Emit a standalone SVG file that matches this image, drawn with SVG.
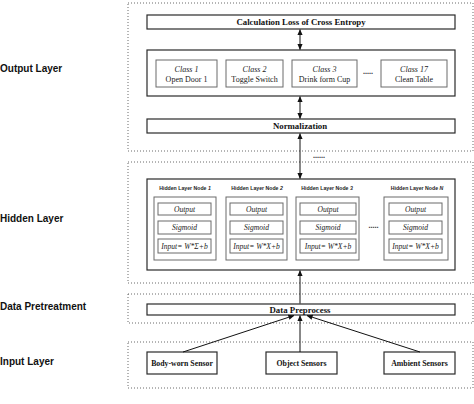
<svg xmlns="http://www.w3.org/2000/svg" width="474" height="404" viewBox="0 0 474 404">
<style>
.bg{fill:#fff}
.layer{fill:none;stroke:#6a6a6a;stroke-width:1;stroke-dasharray:1 2}
.box{fill:#fff;stroke:#2a2a2a;stroke-width:1.2}
.ibox{fill:#fff;stroke:#6a6a6a;stroke-width:1}
.lt{font-family:"Liberation Sans",Arial,sans-serif;font-weight:bold;font-size:10px;fill:#111}
.bt{font-family:"Liberation Serif","Times New Roman",serif;font-weight:bold;font-size:8.8px;fill:#111;text-anchor:middle}
.st{font-family:"Liberation Serif","Times New Roman",serif;font-weight:bold;font-size:7.8px;fill:#111;text-anchor:middle}
.ct{font-family:"Liberation Serif","Times New Roman",serif;font-size:8px;fill:#222;text-anchor:middle}
.ci{font-style:italic}
.nt{font-family:"Liberation Sans",Arial,sans-serif;font-weight:bold;font-size:5.2px;fill:#222;text-anchor:middle}
.it{font-family:"Liberation Serif","Times New Roman",serif;font-style:italic;font-size:7.6px;fill:#222;text-anchor:middle}
.dots{font-family:"Liberation Serif","Times New Roman",serif;font-weight:bold;font-size:8px;fill:#333;text-anchor:middle}
.ln{stroke:#111;stroke-width:1;fill:none}
</style>
<defs>
<marker id="ah" viewBox="0 0 8 8" refX="7.5" refY="4" markerWidth="6" markerHeight="6" orient="auto-start-reverse" markerUnits="userSpaceOnUse">
<path d="M0,0.5 L8,4 L0,7.5 Z" fill="#111"/>
</marker>
</defs>
<rect class="bg" x="0" y="0" width="474" height="404"/>

<g id="labels">
<text class="lt" x="0" y="71.5">Output Layer</text>
<text class="lt" x="0" y="221.5">Hidden Layer</text>
<text class="lt" x="0" y="309.5">Data Pretreatment</text>
<text class="lt" x="0" y="364.5">Input Layer</text>
</g>

<g id="layers">
<rect class="layer" x="128" y="3" width="345" height="148"/>
<rect class="layer" x="128" y="162" width="345" height="121"/>
<rect class="layer" x="128" y="294" width="345" height="29"/>
<rect class="layer" x="128" y="342" width="345" height="46"/>
</g>

<g id="calc">
<rect class="box" x="147" y="15" width="308" height="14"/>
<text class="bt" x="301" y="25">Calculation Loss of Cross Entropy</text>
</g>

<g id="classes">
<rect class="box" x="147" y="50" width="308" height="46"/>
<g id="class1">
<rect class="ibox" x="156" y="60" width="61" height="27"/>
<text class="ct ci" x="186.5" y="71.5">Class 1</text>
<text class="ct" x="186.5" y="81.5">Open Door 1</text>
</g>
<g id="class2">
<rect class="ibox" x="226" y="60" width="57" height="27"/>
<text class="ct ci" x="254.5" y="71.5">Class 2</text>
<text class="ct" x="254.5" y="81.5">Toggle Switch</text>
</g>
<g id="class3">
<rect class="ibox" x="292" y="60" width="65" height="27"/>
<text class="ct ci" x="324.5" y="71.5">Class 3</text>
<text class="ct" x="324.5" y="81.5">Drink form Cup</text>
</g>
<text class="dots" x="368" y="74">.....</text>
<g id="class17">
<rect class="ibox" x="381" y="60" width="66" height="27"/>
<text class="ct ci" x="414" y="71.5">Class 17</text>
<text class="ct" x="414" y="81.5">Clean Table</text>
</g>
</g>

<g id="norm">
<rect class="box" x="147" y="119" width="308" height="14"/>
<text class="bt" x="300" y="129">Normalization</text>
</g>

<text class="dots" x="319" y="158">......</text>

<g id="hidden">
<rect class="box" x="147" y="179" width="308" height="91"/>
<g id="node1">
<text class="nt" x="185" y="189.5">Hidden Layer Node <tspan font-style="italic">1</tspan></text>
<rect class="ibox" x="154" y="197" width="62" height="63"/>
<rect class="ibox" x="158" y="203" width="53" height="12"/>
<text class="it" x="184.5" y="211.5">Output</text>
<rect class="ibox" x="158" y="221" width="53" height="13"/>
<text class="it" x="184.5" y="230">Sigmoid</text>
<rect class="ibox" x="158" y="239" width="53" height="14"/>
<text class="it" x="184.5" y="248.5">Input= W*Σ+b</text>
</g>
<g id="node2">
<text class="nt" x="257" y="189.5">Hidden Layer Node <tspan font-style="italic">2</tspan></text>
<rect class="ibox" x="226" y="197" width="61" height="63"/>
<rect class="ibox" x="230" y="203" width="53" height="12"/>
<text class="it" x="256.5" y="211.5">Output</text>
<rect class="ibox" x="230" y="221" width="53" height="13"/>
<text class="it" x="256.5" y="230">Sigmoid</text>
<rect class="ibox" x="230" y="239" width="53" height="14"/>
<text class="it" x="256.5" y="248.5">Input= W*X+b</text>
</g>
<g id="node3">
<text class="nt" x="327" y="189.5">Hidden Layer Node <tspan font-style="italic">3</tspan></text>
<rect class="ibox" x="296" y="197" width="63" height="63"/>
<rect class="ibox" x="300" y="203" width="56" height="12"/>
<text class="it" x="328" y="211.5">Output</text>
<rect class="ibox" x="300" y="221" width="56" height="13"/>
<text class="it" x="328" y="230">Sigmoid</text>
<rect class="ibox" x="300" y="239" width="56" height="14"/>
<text class="it" x="328" y="248.5">Input= W*X+b</text>
</g>
<text class="dots" x="373.5" y="228">.....</text>
<g id="nodeN">
<text class="nt" x="417" y="189.5">Hidden Layer Node <tspan font-style="italic">N</tspan></text>
<rect class="ibox" x="384" y="197" width="64" height="63"/>
<rect class="ibox" x="389" y="203" width="53" height="12"/>
<text class="it" x="415.5" y="211.5">Output</text>
<rect class="ibox" x="389" y="221" width="53" height="13"/>
<text class="it" x="415.5" y="230">Sigmoid</text>
<rect class="ibox" x="389" y="239" width="53" height="14"/>
<text class="it" x="415.5" y="248.5">Input= W*X+b</text>
</g>
</g>

<g id="preprocess">
<rect class="box" x="147" y="304" width="308" height="11"/>
<text class="bt" x="300" y="312.8">Data Preprocess</text>
</g>

<g id="sensor-body">
<rect class="box" x="147" y="352" width="70" height="22"/>
<text class="st" x="182" y="365.5">Body-worn Sensor</text>
</g>
<g id="sensor-object">
<rect class="box" x="266" y="352" width="71" height="22"/>
<text class="st" x="301.5" y="365.5">Object Sensors</text>
</g>
<g id="sensor-ambient">
<rect class="box" x="384" y="352" width="71" height="22"/>
<text class="st" x="419.5" y="365.5">Ambient Sensors</text>
</g>

<g id="connectors">
<line class="ln" x1="300" y1="29.5" x2="300" y2="49.5" marker-start="url(#ah)" marker-end="url(#ah)"/>
<line class="ln" x1="300" y1="96.5" x2="300" y2="118.5" marker-start="url(#ah)" marker-end="url(#ah)"/>
<line class="ln" x1="300" y1="133.5" x2="300" y2="178.5" marker-start="url(#ah)" marker-end="url(#ah)"/>
<line class="ln" x1="300" y1="303.5" x2="300" y2="270.5" marker-end="url(#ah)"/>
<line class="ln" x1="183" y1="352" x2="294" y2="315.5" marker-end="url(#ah)"/>
<line class="ln" x1="300" y1="352" x2="300" y2="315.5" marker-end="url(#ah)"/>
<line class="ln" x1="420" y1="352" x2="307" y2="315.5" marker-end="url(#ah)"/>
</g>
</svg>
